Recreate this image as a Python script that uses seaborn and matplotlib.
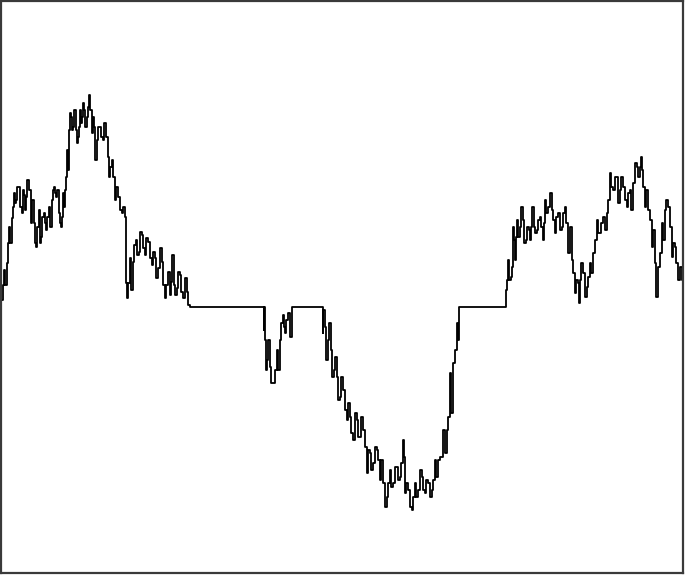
import numpy as np
import pandas as pd
import seaborn as sns
import matplotlib
matplotlib.use("Agg")
import matplotlib.pyplot as plt

# signal: for each sample column the upper and lower excursion,
# measured relative to the flat baseline (0)
left_x = [1, 3, 5, 8, 10, 13, 15, 17, 20, 23, 25, 27, 29, 32, 35, 37, 40, 42, 45, 47,
          50, 53, 55, 57, 60, 62, 64, 66, 68, 70, 72, 74, 77, 79, 81, 83, 85, 88, 90, 93,
          95, 98, 101, 104, 108, 110, 113, 116, 120, 123, 126, 128, 131, 134, 137, 140,
          143, 146, 150, 153, 156, 160, 163, 166, 170, 172, 175, 178, 181, 185, 188, 191]
left_hi = [30, 22, 37, 64, 80, 100, 114, 120, 120, 117, 112, 127, 127, 107, 84, 80, 97, 90, 94, 90,
           100, 117, 120, 117, 94, 90, 114, 130, 157, 194, 190, 197, 177, 180, 197, 204, 197, 200, 212, 190,
           180, 180, 180, 184, 170, 140, 147, 120, 110, 100, 90, 24, 49, 62, 67, 75,
           72, 69, 65, 55, 49, 59, 45, 22, 35, 52, 22, 35, 32, 29, 15, 0]
left_lo = [7, 7, 22, 44, 64, 89, 104, 107, 100, 94, 97, 110, 117, 84, 64, 60, 64, 70, 84, 77,
           80, 107, 114, 110, 84, 80, 100, 117, 137, 177, 177, 180, 164, 170, 184, 190, 180, 190, 197, 174,
           147, 167, 170, 167, 150, 130, 130, 107, 97, 94, 24, 9, 17, 45, 52, 55,
           59, 52, 49, 42, 29, 39, 22, 9, 12, 25, 12, 19, 15, 9, 2, 0]

mid_x = [263, 264, 266, 268, 271, 275, 278, 281, 284, 286, 290, 293, 322, 323, 326, 329, 332, 335,
         338, 341, 345, 348, 351, 355, 358, 361, 365, 368, 371, 375, 378, 381, 385, 388, 391,
         395, 398, 401, 404, 406, 410, 413, 416, 420, 423, 426, 430, 433, 436, 440, 445, 448,
         451, 455, 458, 460]
mid_hi = [0, 0, -33, -33, -60, -63, -43, -16, -8, -13, -6, 0, 0, -3, -20, -16, -43, -50,
          -70, -70, -83, -96, -110, -106, -113, -110, -123, -143, -146, -140, -143, -153, -176, -176, -163,
          -160, -160, -156, -133, -176, -183, -190, -176, -163, -170, -173, -176, -173, -153, -150, -123, -110,
          -66, -43, -16, 0]
mid_lo = [0, -23, -63, -53, -76, -76, -63, -33, -20, -26, -30, 0, 0, -26, -53, -33, -70, -63,
          -93, -90, -103, -113, -126, -133, -130, -130, -140, -166, -163, -156, -153, -173, -200, -190, -180,
          -176, -173, -170, -150, -186, -200, -203, -190, -183, -183, -186, -190, -183, -170, -153, -146, -123,
          -106, -56, -33, 0]

right_x = [505, 507, 509, 512, 514, 516, 518, 521, 524, 527, 530, 532, 535, 538, 541, 544, 546,
           550, 553, 556, 560, 563, 566, 570, 573, 576, 579, 581, 585, 588, 591, 595, 598, 601,
           605, 608, 611, 615, 618, 621, 625, 628, 631, 635, 638, 641, 643, 646, 650, 653, 656,
           660, 663, 666, 670, 673, 676, 680, 683]
right_hi = [0, 27, 47, 40, 80, 70, 87, 100, 87, 80, 77, 100, 80, 87, 90, 84, 107,
            114, 97, 90, 94, 94, 100, 80, 47, 27, 24, 44, 34, 30, 44, 67, 87, 84,
            90, 107, 134, 130, 130, 130, 120, 114, 117, 144, 140, 150, 137, 117, 97, 77, 44,
            54, 84, 107, 100, 64, 60, 40, 27]
right_lo = [0, 17, 27, 30, 67, 47, 70, 80, 64, 67, 67, 80, 74, 77, 80, 67, 94,
            100, 87, 74, 77, 80, 84, 54, 34, 14, 4, 27, 10, 20, 34, 54, 74, 74,
            77, 94, 120, 117, 104, 117, 107, 100, 97, 124, 130, 140, 120, 100, 87, 60, 10,
            40, 67, 97, 80, 50, 44, 27, 10]


def zigzag(xs, hi, lo):
    px, py = [], []
    for i, (x, h, l) in enumerate(zip(xs, hi, lo)):
        first, second = (h, l) if i % 2 == 0 else (l, h)
        px += [x - 0.7, x + 0.7]
        py += [first, second]
    return px, py


xs, ys = [], []
for seg in [(left_x, left_hi, left_lo), (mid_x, mid_hi, mid_lo), (right_x, right_hi, right_lo)]:
    px, py = zigzag(*seg)
    xs += px
    ys += py

df = pd.DataFrame({"t": xs, "signal": ys})

sns.set_style("white")
fig = plt.figure(figsize=(6.85, 5.75), dpi=100)
ax = fig.add_axes([1 / 685, 2 / 575, 682 / 685, 572 / 575])
sns.lineplot(data=df, x="t", y="signal", sort=False, estimator=None,
             color="black", linewidth=1.3, drawstyle="steps-mid", ax=ax)
ax.set_xlim(1, 683)
ax.set_ylim(-266, 306)
ax.set_xticks([])
ax.set_yticks([])
ax.set_xlabel("")
ax.set_ylabel("")
for s in ax.spines.values():
    s.set_visible(True)
    s.set_color("#3a3a3a")
    s.set_linewidth(1.6)

fig.savefig("out.png", dpi=100)
